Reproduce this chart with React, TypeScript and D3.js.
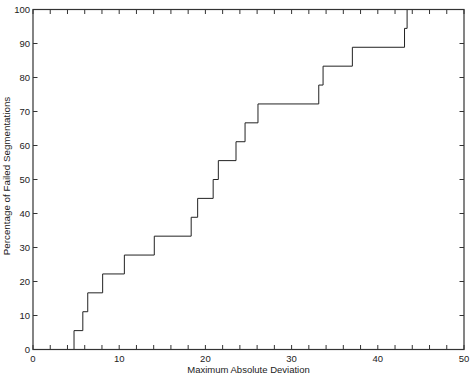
import React from "react";
import * as d3 from "d3";

const deviations: number[] = [4.76, 5.78, 6.35, 8.08, 10.6, 14.07, 18.35, 19.1, 20.9, 21.5, 23.55, 24.6, 26.1, 33.15, 33.65, 37.05, 43.1, 43.4];
const xTickLabels: number[] = [0, 10, 20, 30, 40, 50];
const yTickLabels: number[] = [0, 10, 20, 30, 40, 50, 60, 70, 80, 90, 100];
const xLabel = "Maximum Absolute Deviation";
const yLabel = "Percentage of Failed Segmentations";

const W = 474, H = 376;
const L = 33, R = 464, T = 9.5, B = 349.5;

export default function App() {
  const x = d3.scaleLinear().domain([0, 50]).range([L, R]);
  const y = d3.scaleLinear().domain([0, 100]).range([B, T]);
  const n = deviations.length;
  const pts: [number, number][] = [[0, 0], ...deviations.map((d, i) => [d, ((i + 1) / n) * 100] as [number, number])];
  const line = d3.line<[number, number]>().x(d => x(d[0])).y(d => y(d[1])).curve(d3.curveStepAfter);
  const minorX = d3.range(0, 51, 2);
  const col = "#333";
  const tk = 4.5;
  const font = "Liberation Sans, Arial, Helvetica, sans-serif";
  return (
    <svg width={W} height={H} style={{ position: "absolute", left: 0, top: 0, background: "#fff" }}>
      <rect x={0} y={0} width={W} height={H} fill="#fff" />
      <path d={line(pts) || ""} fill="none" stroke="#222" strokeWidth={1} />
      <rect x={L} y={T} width={R - L} height={B - T} fill="none" stroke={col} strokeWidth={1.2} />
      {minorX.map(v => (
        <g key={"xt" + v}>
          <line x1={x(v)} x2={x(v)} y1={B} y2={B - tk} stroke={col} strokeWidth={1} />
          <line x1={x(v)} x2={x(v)} y1={T} y2={T + tk} stroke={col} strokeWidth={1} />
        </g>
      ))}
      {yTickLabels.map(v => (
        <g key={"yt" + v}>
          <line x1={L} x2={L + tk} y1={y(v)} y2={y(v)} stroke={col} strokeWidth={1} />
          <line x1={R} x2={R - tk} y1={y(v)} y2={y(v)} stroke={col} strokeWidth={1} />
          <text x={L - 3} y={y(v)} dy="0.35em" textAnchor="end" fontSize={9.5} fontFamily={font} fill="#222">{v}</text>
        </g>
      ))}
      {xTickLabels.map(v => (
        <text key={"xl" + v} x={x(v)} y={B + 12.5} textAnchor="middle" fontSize={9.5} fontFamily={font} fill="#222">{v}</text>
      ))}
      <text x={(L + R) / 2} y={373} textAnchor="middle" fontSize={9.5} fontFamily={font} fill="#222">{xLabel}</text>
      <text transform={`translate(10,176) rotate(-90)`} textAnchor="middle" fontSize={9.8} fontFamily={font} fill="#222">{yLabel}</text>
    </svg>
  );
}
